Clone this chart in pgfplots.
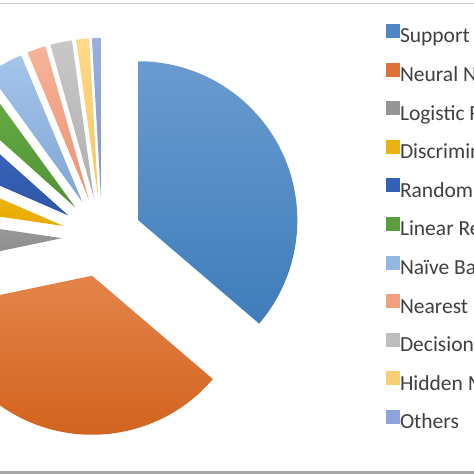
\documentclass[border=0pt]{standalone}
\usepackage{pgfplots}
\pgfplotsset{compat=1.18}
\usepackage{pgfplotstable}
\usepackage{fontspec}
\setmainfont{Carlito}

% slice shading (top / bottom) and legend colours
\definecolor{t0}{HTML}{6A9BD0}\definecolor{b0}{HTML}{3E7CBA}\definecolor{l0}{HTML}{4F86C6}
\definecolor{t1}{HTML}{E4844A}\definecolor{b1}{HTML}{D05F1A}\definecolor{l1}{HTML}{E0703A}
\definecolor{t2}{HTML}{9C9C9C}\definecolor{b2}{HTML}{888888}\definecolor{l2}{HTML}{959595}
\definecolor{t3}{HTML}{F2BD1A}\definecolor{b3}{HTML}{E8AC00}\definecolor{l3}{HTML}{E8B210}
\definecolor{t4}{HTML}{3C6BC0}\definecolor{b4}{HTML}{2E56A8}\definecolor{l4}{HTML}{3460B8}
\definecolor{t5}{HTML}{6AAE48}\definecolor{b5}{HTML}{4F9433}\definecolor{l5}{HTML}{5B9F3E}
\definecolor{t6}{HTML}{A5C5EA}\definecolor{b6}{HTML}{7FA6D6}\definecolor{l6}{HTML}{93B7E3}
\definecolor{t7}{HTML}{F5B49A}\definecolor{b7}{HTML}{EE9070}\definecolor{l7}{HTML}{F29F80}
\definecolor{t8}{HTML}{C8C8C8}\definecolor{b8}{HTML}{AFAFAF}\definecolor{l8}{HTML}{BEBEBE}
\definecolor{t9}{HTML}{FFD98A}\definecolor{b9}{HTML}{F7C65C}\definecolor{l9}{HTML}{F8CF72}
\definecolor{t10}{HTML}{9BB0E0}\definecolor{b10}{HTML}{7E97D2}\definecolor{l10}{HTML}{8CA4DC}
\definecolor{legtext}{HTML}{404040}

\pgfplotstableread[col sep=comma]{
label,value
Support Vector Machine,36.3
Neural Network,35.5
Logistic Regression,5.6
Discriminant Analysis,4.2
Random Forest,5.1
Linear Regression,3.4
Naïve Bayes,3.7
Nearest Neighbor,1.9
Decision Tree,2.2
Hidden Markov Model,1.3
Others,0.9
}\piedata

\def\R{159}
\def\explode{40}

\pgfplotstablegetrowsof{\piedata}%
\pgfmathtruncatemacro\nrows{\pgfplotsretval-1}%
\gdef\total{0}%
\foreach \i in {0,...,\nrows}{%
  \pgfplotstablegetelem{\i}{value}\of\piedata
  \pgfmathsetmacro\tmp{\total+\pgfplotsretval}%
  \xdef\total{\tmp}%
}%
\gdef\cum{90}%
\foreach \i in {0,...,\nrows}{%
  \pgfplotstablegetelem{\i}{value}\of\piedata
  \pgfmathsetmacro\e{\cum-\pgfplotsretval/\total*360}%
  \pgfmathsetmacro\m{(\cum+\e)/2}%
  \expandafter\xdef\csname sA\i\endcsname{\cum}%
  \expandafter\xdef\csname eA\i\endcsname{\e}%
  \expandafter\xdef\csname mA\i\endcsname{\m}%
  \xdef\cum{\e}%
  \pgfplotstablegetelem{\i}{label}\of\piedata
  \expandafter\xdef\csname lab\i\endcsname{\pgfplotsretval}%
}%

\begin{document}%
\begin{tikzpicture}
\path[use as bounding box, clip] (0,0) rectangle (474pt,474pt);
\begin{axis}[
  at={(0,0)}, anchor=south west,
  x=1pt, y=1pt,
  xmin=-102, xmax=372, ymin=-237, ymax=237,
  hide axis, clip=false, xtick=\empty, ytick=\empty,
  legend image code/.code={\fill[#1] (0pt,0pt) rectangle (14pt,14pt);},
  legend cell align=left,
  legend style={at={(axis cs:284,213)}, anchor=north west,
    draw=none, fill=none, inner sep=0pt, outer sep=0pt,
    row sep=14.6pt, text=legtext,
    font=\fontsize{21.5}{25}\selectfont,
    nodes={inner sep=0pt, text height=15pt, text depth=5pt},
    /tikz/every even column/.append style={column sep=3pt}},
]
\pgfplotsinvokeforeach{0,...,10}{
  \shade[top color=t#1, bottom color=b#1, draw=none]
    ({\explode*cos(\csname mA#1\endcsname)},{\explode*sin(\csname mA#1\endcsname)})
    -- ++(\csname sA#1\endcsname:\R pt)
    arc[start angle=\csname sA#1\endcsname, end angle=\csname eA#1\endcsname, radius=\R pt]
    -- cycle;
  \addlegendimage{fill=l#1, draw=none}
  \addlegendentryexpanded{\csname lab#1\endcsname}
}
\end{axis}
\draw[color=black!20, line width=0.8pt] (0,471pt) -- (474pt,471pt);
\fill[black!35] (0,0) rectangle (474pt,3pt);
\end{tikzpicture}%
\end{document}
